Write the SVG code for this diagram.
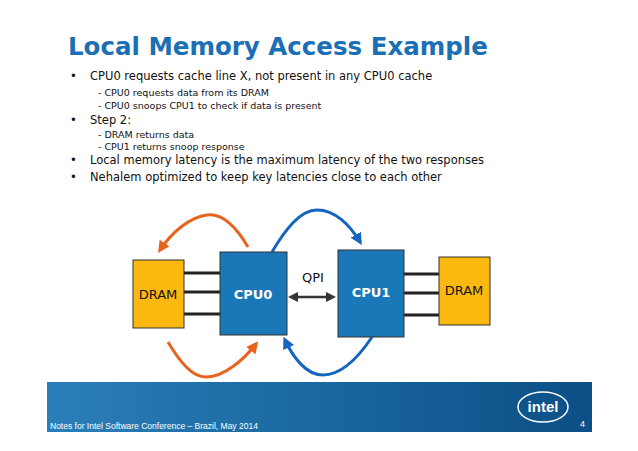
<svg xmlns="http://www.w3.org/2000/svg" width="638" height="451" viewBox="0 0 638 451">
<defs>
<style>
.t{font-family:Verdana,"DejaVu Sans",sans-serif;fill:#111}
.m{font-size:11.5px}.s{font-size:9.5px}
.box{stroke:#333;stroke-width:1}
.bar{stroke:#222;stroke-width:3}
.or{fill:none;stroke:#e8641e;stroke-width:3}
.bl{fill:none;stroke:#1565c0;stroke-width:3}
</style>
<marker id="ao" viewBox="0 0 10 10" refX="7" refY="5" markerWidth="4" markerHeight="4" orient="auto"><path d="M0,0L10,5L0,10z" fill="#e8641e"/></marker>
<marker id="ab" viewBox="0 0 10 10" refX="7" refY="5" markerWidth="4" markerHeight="4" orient="auto"><path d="M0,0L10,5L0,10z" fill="#1565c0"/></marker>
<marker id="ak" viewBox="0 0 10 10" refX="7" refY="5" markerWidth="4" markerHeight="4" orient="auto-start-reverse"><path d="M0,0L10,5L0,10z" fill="#333"/></marker>
<linearGradient id="ft" x1="0" x2="1"><stop offset="0" stop-color="#2a7fb8"/><stop offset="1" stop-color="#0b4f86"/></linearGradient>
</defs>
<rect width="638" height="451" fill="#fff"/>
<text x="68" y="55" style="font-family:Verdana,'DejaVu Sans',sans-serif;font-weight:bold;font-size:24.5px;fill:#1a6fb5">Local Memory Access Example</text>
<g class="t">
<text x="70" y="80" class="m">•</text><text x="90" y="80" class="m">CPU0 requests cache line X, not present in any CPU0 cache</text>
<text x="98" y="96" class="s">- CPU0 requests data from its DRAM</text>
<text x="98" y="109" class="s">- CPU0 snoops CPU1 to check if data is present</text>
<text x="70" y="124" class="m">•</text><text x="90" y="124" class="m">Step 2:</text>
<text x="98" y="138" class="s">- DRAM returns data</text>
<text x="98" y="150" class="s">- CPU1 returns snoop response</text>
<text x="70" y="164" class="m">•</text><text x="90" y="164" class="m">Local memory latency is the maximum latency of the two responses</text>
<text x="70" y="181" class="m">•</text><text x="90" y="181" class="m">Nehalem optimized to keep key latencies close to each other</text>
</g>
<g id="connectors">
<line class="bar" x1="184" y1="273" x2="220" y2="273"/><line class="bar" x1="184" y1="292" x2="220" y2="292"/><line class="bar" x1="184" y1="314" x2="220" y2="314"/>
<line class="bar" x1="404" y1="274" x2="439" y2="274"/><line class="bar" x1="404" y1="293" x2="439" y2="293"/><line class="bar" x1="404" y1="315" x2="439" y2="315"/>
<line x1="291" y1="297" x2="333" y2="297" stroke="#333" stroke-width="2.5" marker-start="url(#ak)" marker-end="url(#ak)"/>
<path class="or" d="M248,247 C235,225 222,213 207,215 C190,217 172,232 160,250" marker-end="url(#ao)"/>
<path class="bl" d="M272,252 C285,230 300,210 317,210 C335,210 350,225 360,242" marker-end="url(#ab)"/>
<path class="or" d="M168,342 C180,362 192,377 206,377 C225,377 245,358 256,344" marker-end="url(#ao)"/>
<path class="bl" d="M372,337 C360,355 342,375 323,375 C305,375 292,355 285,340" marker-end="url(#ab)"/>
<text x="313" y="282" text-anchor="middle" style="font-family:Verdana,'DejaVu Sans',sans-serif;font-size:13px;fill:#111">QPI</text>
</g>
<g id="dram0"><rect class="box" x="133" y="260" width="51" height="68" fill="#fbb90f"/><text x="158" y="299" text-anchor="middle" class="t" style="font-size:13px">DRAM</text></g>
<g id="cpu0"><rect class="box" x="220" y="252" width="67" height="83" fill="#1a77b8"/><text x="253" y="299" text-anchor="middle" style="font-family:Verdana,'DejaVu Sans',sans-serif;font-weight:bold;font-size:13px;fill:#fff">CPU0</text></g>
<g id="cpu1"><rect class="box" x="338" y="250" width="66" height="87" fill="#1a77b8"/><text x="371" y="297" text-anchor="middle" style="font-family:Verdana,'DejaVu Sans',sans-serif;font-weight:bold;font-size:13px;fill:#fff">CPU1</text></g>
<g id="dram1"><rect class="box" x="439" y="257" width="51" height="68" fill="#fbb90f"/><text x="464" y="295" text-anchor="middle" class="t" style="font-size:13px">DRAM</text></g>
<g id="footer">
<rect x="47" y="382" width="545" height="50" fill="url(#ft)"/>
<text x="50" y="429" style="font-family:'Liberation Sans',Arial,sans-serif;font-size:8.5px;fill:#fff">Notes for Intel Software Conference – Brazil, May 2014</text>
<text x="580" y="427" style="font-family:'Liberation Sans',Arial,sans-serif;font-size:9px;fill:#fff">4</text>
<ellipse cx="543" cy="407" rx="25" ry="15" fill="none" stroke="#fff" stroke-width="1.5"/>
<text x="543" y="412" text-anchor="middle" style="font-family:'Liberation Sans',Arial,sans-serif;font-size:15px;font-weight:bold;fill:#fff">intel</text>
</g>
</svg>
